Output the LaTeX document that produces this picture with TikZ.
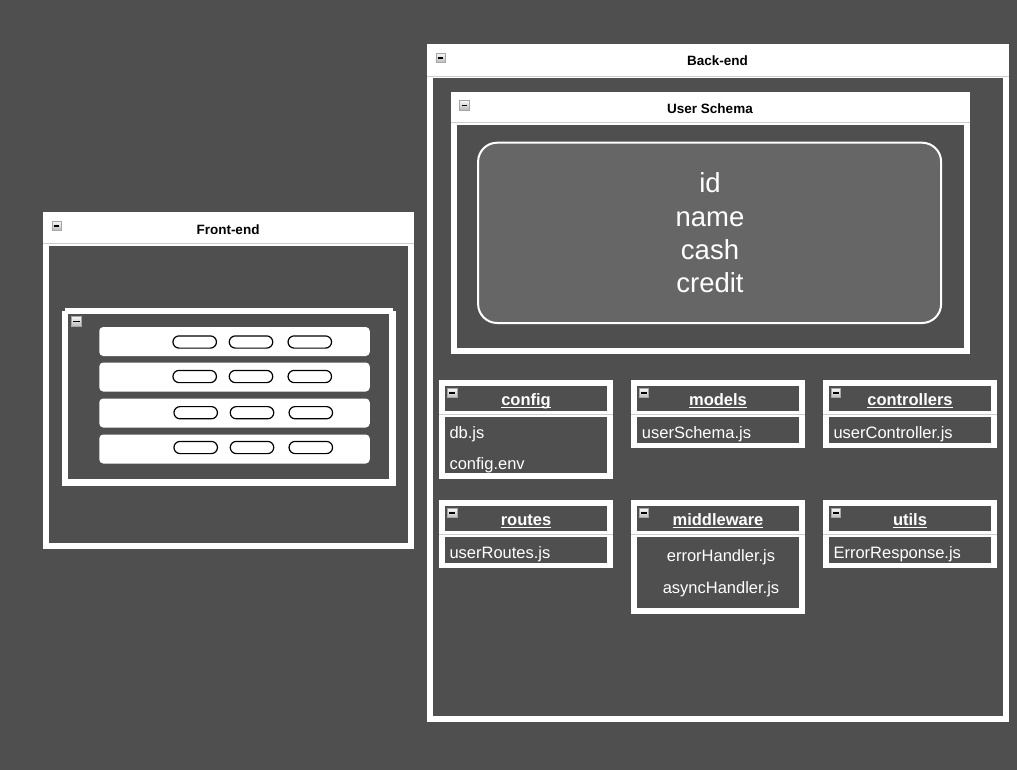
\documentclass[tikz,border=0pt]{standalone}
\usepackage{fontspec}
\setmainfont{Liberation Sans}
\definecolor{bg}{RGB}{79,79,79}
\definecolor{schemafill}{RGB}{102,102,102}
\definecolor{sepline}{RGB}{205,205,205}
\newcommand\myul[1]{\setbox0=\hbox{#1}\rlap{\rule[-2.6pt]{\wd0}{1.4pt}}\box0}
\tikzset{
  rbox/.style={rectangle, inner sep=0pt, outer sep=0pt, draw=none, anchor=north west},
  whitebox/.style={rbox, fill=white},
  darkbox/.style={rbox, fill=bg},
  minusicon/.style={rectangle, inner sep=0pt, minimum size=9.5pt, draw=gray!70, line width=0.6pt,
    top color=gray!5, bottom color=gray!55,
    path picture={\draw[black,line width=1.4pt] ([xshift=2pt]path picture bounding box.west) -- ([xshift=-2pt]path picture bounding box.east);}},
  ctitle/.style={font=\bfseries\fontsize{13.5}{16}\selectfont, text=black, anchor=base, inner sep=0pt},
  ptitle/.style={font=\bfseries\fontsize{16.5}{20}\selectfont, text=white, anchor=base, inner sep=0pt},
  item/.style={font=\fontsize{16.5}{20}\selectfont, text=white, anchor=base west, inner sep=0pt},
  citem/.style={item, anchor=base},
  field/.style={font=\fontsize{27.5}{33}\selectfont, text=white, anchor=base, inner sep=0pt},
  rowbox/.style={rectangle, fill=white, rounded corners=4pt, minimum width=270.5pt, minimum height=29pt, inner sep=0pt},
  pill/.style={rectangle, fill=white, draw=black, line width=1.2pt, rounded corners=6.1pt, minimum width=43.5pt, minimum height=12.2pt, inner sep=0pt},
  sep/.style={draw=sepline, line width=0.8pt},
}
\begin{document}
\begin{tikzpicture}[x=1pt,y=-1pt]
\fill[bg] (0,0) rectangle (1017,770);
\useasboundingbox (0,0) rectangle (1017,770);

% ---------------- Front-end ----------------
\node[whitebox, minimum width=371pt, minimum height=337pt] (fe) at (43,212) {};
\node[darkbox, minimum width=359pt, minimum height=297pt] (febody) at (49,246) {};
\draw[sep] (43,243.5) -- (414,243.5);
\node[ctitle] (fetitle) at (228,234.3) {Front-end};
\node[minusicon] (femin) at (56.7,226) {};

\node[whitebox, minimum width=334pt, minimum height=175pt] (fi) at (62,311) {};
\node[whitebox, minimum width=328pt, minimum height=6pt] (fitop) at (65,308) {};
\node[darkbox, minimum width=321pt, minimum height=165pt] (fibody) at (68.3,314) {};
\node[minusicon, minimum size=10.5pt] (fimin) at (76.3,321.3) {};

\node[rowbox] (row1) at (234.5,341.5) {};
\node[rowbox] (row2) at (234.5,377) {};
\node[rowbox] (row3) at (234.5,413) {};
\node[rowbox] (row4) at (234.5,449) {};

\node[pill] (p11) at (194.7,342) {};
\node[pill] (p12) at (251,342) {};
\node[pill] (p13) at (309.8,342) {};
\node[pill] (p21) at (194.7,376.5) {};
\node[pill] (p22) at (251,376.5) {};
\node[pill] (p23) at (309.8,376.5) {};
\node[pill] (p31) at (195.7,412.7) {};
\node[pill] (p32) at (252,412.7) {};
\node[pill] (p33) at (310.8,412.7) {};
\node[pill] (p41) at (195.7,447.5) {};
\node[pill] (p42) at (252,447.5) {};
\node[pill] (p43) at (310.8,447.5) {};

% ---------------- Back-end ----------------
\node[whitebox, minimum width=582pt, minimum height=678pt] (be) at (427,44) {};
\node[darkbox, minimum width=570pt, minimum height=637pt] (bebody) at (433,78.5) {};
\draw[sep] (427,76.7) -- (1009,76.7);
\node[ctitle] (betitle) at (717.5,66) {Back-end};
\node[minusicon] (bemin) at (440.7,58) {};

% User Schema
\node[whitebox, minimum width=519pt, minimum height=262pt] (us) at (451,92) {};
\node[darkbox, minimum width=507pt, minimum height=223pt] (usbody) at (457,125.3) {};
\draw[sep] (451,122.7) -- (970,122.7);
\node[ctitle] (ustitle) at (710,114) {User Schema};
\node[minusicon] (usmin) at (464.3,105.3) {};
\node[rectangle, fill=schemafill, draw=white, line width=2pt, rounded corners=19pt,
      minimum width=463pt, minimum height=180.3pt, inner sep=0pt] (schema) at (709.6,232.85) {};
\node[field] (fid) at (710,193) {id};
\node[field] (fname) at (710,226) {name};
\node[field] (fcash) at (710,259) {cash};
\node[field] (fcredit) at (710,292) {credit};

% config
\node[whitebox, minimum width=174pt, minimum height=99.3pt] (cfg) at (439,380) {};
\node[darkbox, minimum width=162pt, minimum height=25pt] (cfghead) at (445,386) {};
\node[darkbox, minimum width=162pt, minimum height=56pt] (cfgbody) at (445,417.3) {};
\node[ptitle] (cfgtitle) at (526,405.3) {\myul{config}};
\node[minusicon] (cfgmin) at (452.2,393) {};
\node[item] (cfg1) at (449.3,438.3) {db.js};
\node[item] (cfg2) at (449.3,469) {config.env};

% models
\node[whitebox, minimum width=174pt, minimum height=68.3pt] (mod) at (631,380) {};
\node[darkbox, minimum width=162pt, minimum height=25pt] (modhead) at (637,386) {};
\node[darkbox, minimum width=162pt, minimum height=25.4pt] (modbody) at (637,417.3) {};
\node[ptitle] (modtitle) at (718,405.3) {\myul{models}};
\node[minusicon] (modmin) at (644,393) {};
\node[item] (mod1) at (641.7,438.3) {userSchema.js};

% controllers
\node[whitebox, minimum width=174pt, minimum height=68.3pt] (ctl) at (823,380) {};
\node[darkbox, minimum width=162pt, minimum height=25pt] (ctlhead) at (829,386) {};
\node[darkbox, minimum width=162pt, minimum height=25.4pt] (ctlbody) at (829,417.3) {};
\node[ptitle] (ctltitle) at (910,405.3) {\myul{controllers}};
\node[minusicon] (ctlmin) at (836,393) {};
\node[item] (ctl1) at (833.3,438.3) {userController.js};

% routes
\node[whitebox, minimum width=174pt, minimum height=68.3pt] (rte) at (439,500) {};
\node[darkbox, minimum width=162pt, minimum height=25pt] (rtehead) at (445,506) {};
\node[darkbox, minimum width=162pt, minimum height=25.4pt] (rtebody) at (445,537.3) {};
\node[ptitle] (rtetitle) at (526,525.3) {\myul{routes}};
\node[minusicon] (rtemin) at (452.2,513) {};
\node[item] (rte1) at (449.3,558.3) {userRoutes.js};

% middleware
\node[whitebox, minimum width=174pt, minimum height=113.7pt] (mid) at (631,500) {};
\node[darkbox, minimum width=162pt, minimum height=25pt] (midhead) at (637,506) {};
\node[darkbox, minimum width=162pt, minimum height=70.4pt] (midbody) at (637,537.3) {};
\node[ptitle] (midtitle) at (718,525.3) {\myul{middleware}};
\node[minusicon] (midmin) at (644,513) {};
\node[citem] (mid1) at (721,561) {errorHandler.js};
\node[citem] (mid2) at (721,593.3) {asyncHandler.js};

% utils
\node[whitebox, minimum width=174pt, minimum height=68.3pt] (utl) at (823,500) {};
\node[darkbox, minimum width=162pt, minimum height=25pt] (utlhead) at (829,506) {};
\node[darkbox, minimum width=162pt, minimum height=25.4pt] (utlbody) at (829,537.3) {};
\node[ptitle] (utltitle) at (910,525.3) {\myul{utils}};
\node[minusicon] (utlmin) at (836,513) {};
\node[item] (utl1) at (833.3,558.3) {ErrorResponse.js};

% separator lines in package boxes
\draw[sep] (cfg.west |- 0,414.3) -- (cfg.east |- 0,414.3);
\draw[sep] (mod.west |- 0,414.3) -- (mod.east |- 0,414.3);
\draw[sep] (ctl.west |- 0,414.3) -- (ctl.east |- 0,414.3);
\draw[sep] (rte.west |- 0,534.3) -- (rte.east |- 0,534.3);
\draw[sep] (mid.west |- 0,534.3) -- (mid.east |- 0,534.3);
\draw[sep] (utl.west |- 0,534.3) -- (utl.east |- 0,534.3);
\end{tikzpicture}
\end{document}
